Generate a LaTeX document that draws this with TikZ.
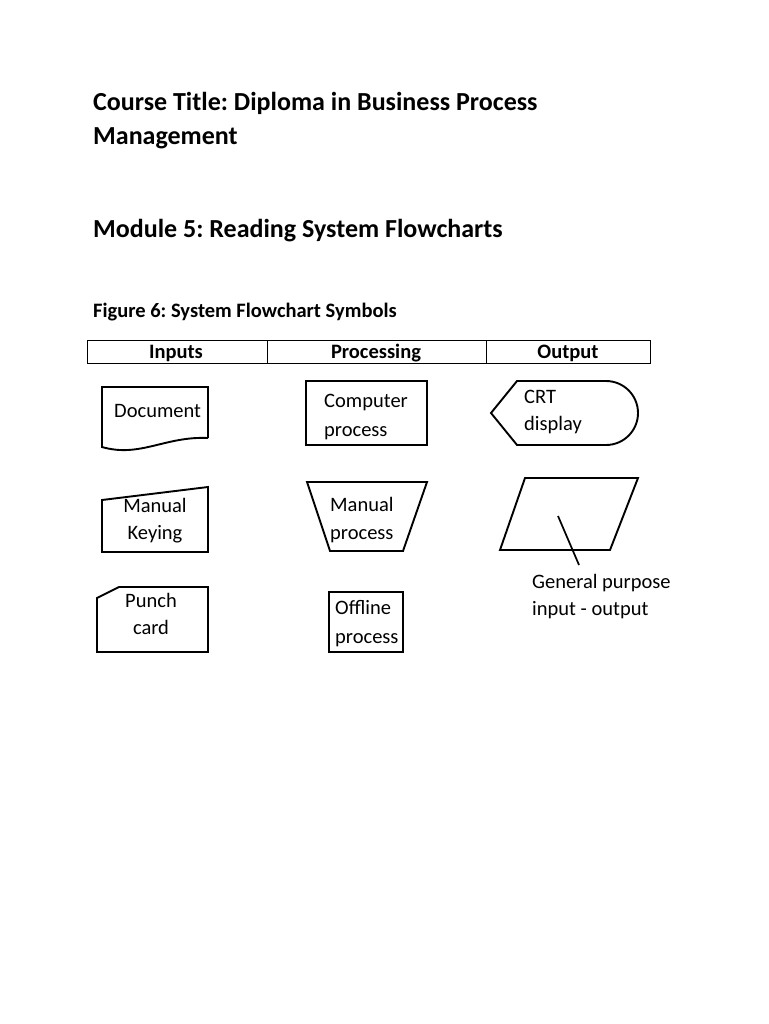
\documentclass[tikz,border=0pt]{standalone}
\usepackage{fontspec}
\setmainfont{Carlito}
\frenchspacing
\usetikzlibrary{calc,positioning}

\begin{document}
\begin{tikzpicture}[x=1pt,y=-1pt,
    every node/.style={inner sep=0pt,anchor=base west,font=\fontsize{20.5}{24}\selectfont},
    heading/.style={font=\fontsize{26}{31}\selectfont\bfseries},
    colhead/.style={anchor=base,font=\fontsize{20.5}{24}\selectfont\bfseries},
    mid/.style={anchor=base},
    symbol/.style={line width=1.9pt,line join=miter} ]
    \useasboundingbox (0,0) rectangle (768,1024);

    % titles
    \node[heading] (title) at (93,111) {Course Title: Diploma in Business Process};
    \node[heading] (titlemore) at (93,145) {Management};
    \node[heading] (module) at (93,237) {Module 5: Reading System Flowcharts};
    \node[font=\fontsize{20.5}{24}\selectfont\bfseries] (figcap) at (93,317) {Figure 6: System Flowchart Symbols};

    % table header
    \draw[line width=1pt] (87,340) rectangle (650,363);
    \draw[line width=1pt] (267,340) -- (267,363);
    \draw[line width=1pt] (486,340) -- (486,363);
    \node[colhead] (inputs) at (176,358) {Inputs};
    \node[colhead] (processing) at (376,358) {Processing};
    \node[colhead] (output) at (568,358) {Output};

    % inputs
    \draw[symbol] (208,438) -- (208,387) -- (102,387) -- (102,447)
        .. controls (140,458) and (165,436) .. (208,438);
    \node (document) at (114,417) {Document};

    \draw[symbol] (102,500) -- (208,487) -- (208,552) -- (102,552) -- cycle;
    \node[mid] (manualk) at (155,512) {Manual};
    \node[mid] (keying) at (155,539) {Keying};

    \draw[symbol] (119,587) -- (208,587) -- (208,652) -- (97,652) -- (97,598) -- cycle;
    \node[mid] (punch) at (151,607) {Punch};
    \node[mid] (card) at (151,634) {card};

    % processing
    \draw[symbol] (306,381) rectangle (427,445);
    \node (computer) at (324,407) {Computer};
    \node (cprocess) at (324,436) {process};

    \draw[symbol] (307,482) -- (427,482) -- (403,551) -- (330,551) -- cycle;
    \node (manualp) at (330,511) {Manual};
    \node (mprocess) at (330,539) {process};

    \draw[symbol] (329,592) rectangle (403,652);
    \node (offline) at (335,614) {Offline};
    \node (oprocess) at (335,643) {process};

    % output
    \draw[symbol] (491,413) -- (517,381) -- (606,381)
        arc[start angle=90,end angle=-90,radius=32pt] -- (517,445) -- cycle;
    \node (crt) at (524,403) {CRT};
    \node (display) at (524,430) {display};

    \draw[symbol] (525,478) -- (638,478) -- (610,550) -- (500,550) -- cycle;
    \coordinate (gpin) at (558,516);
    \coordinate (gpout) at (579,565);
    \draw[line width=1.7pt] (gpin) -- (gpout);
    \node (general) at (532,588) {General purpose};
    \node (inout) at (532,615) {input - output};

\end{tikzpicture}
\end{document}
